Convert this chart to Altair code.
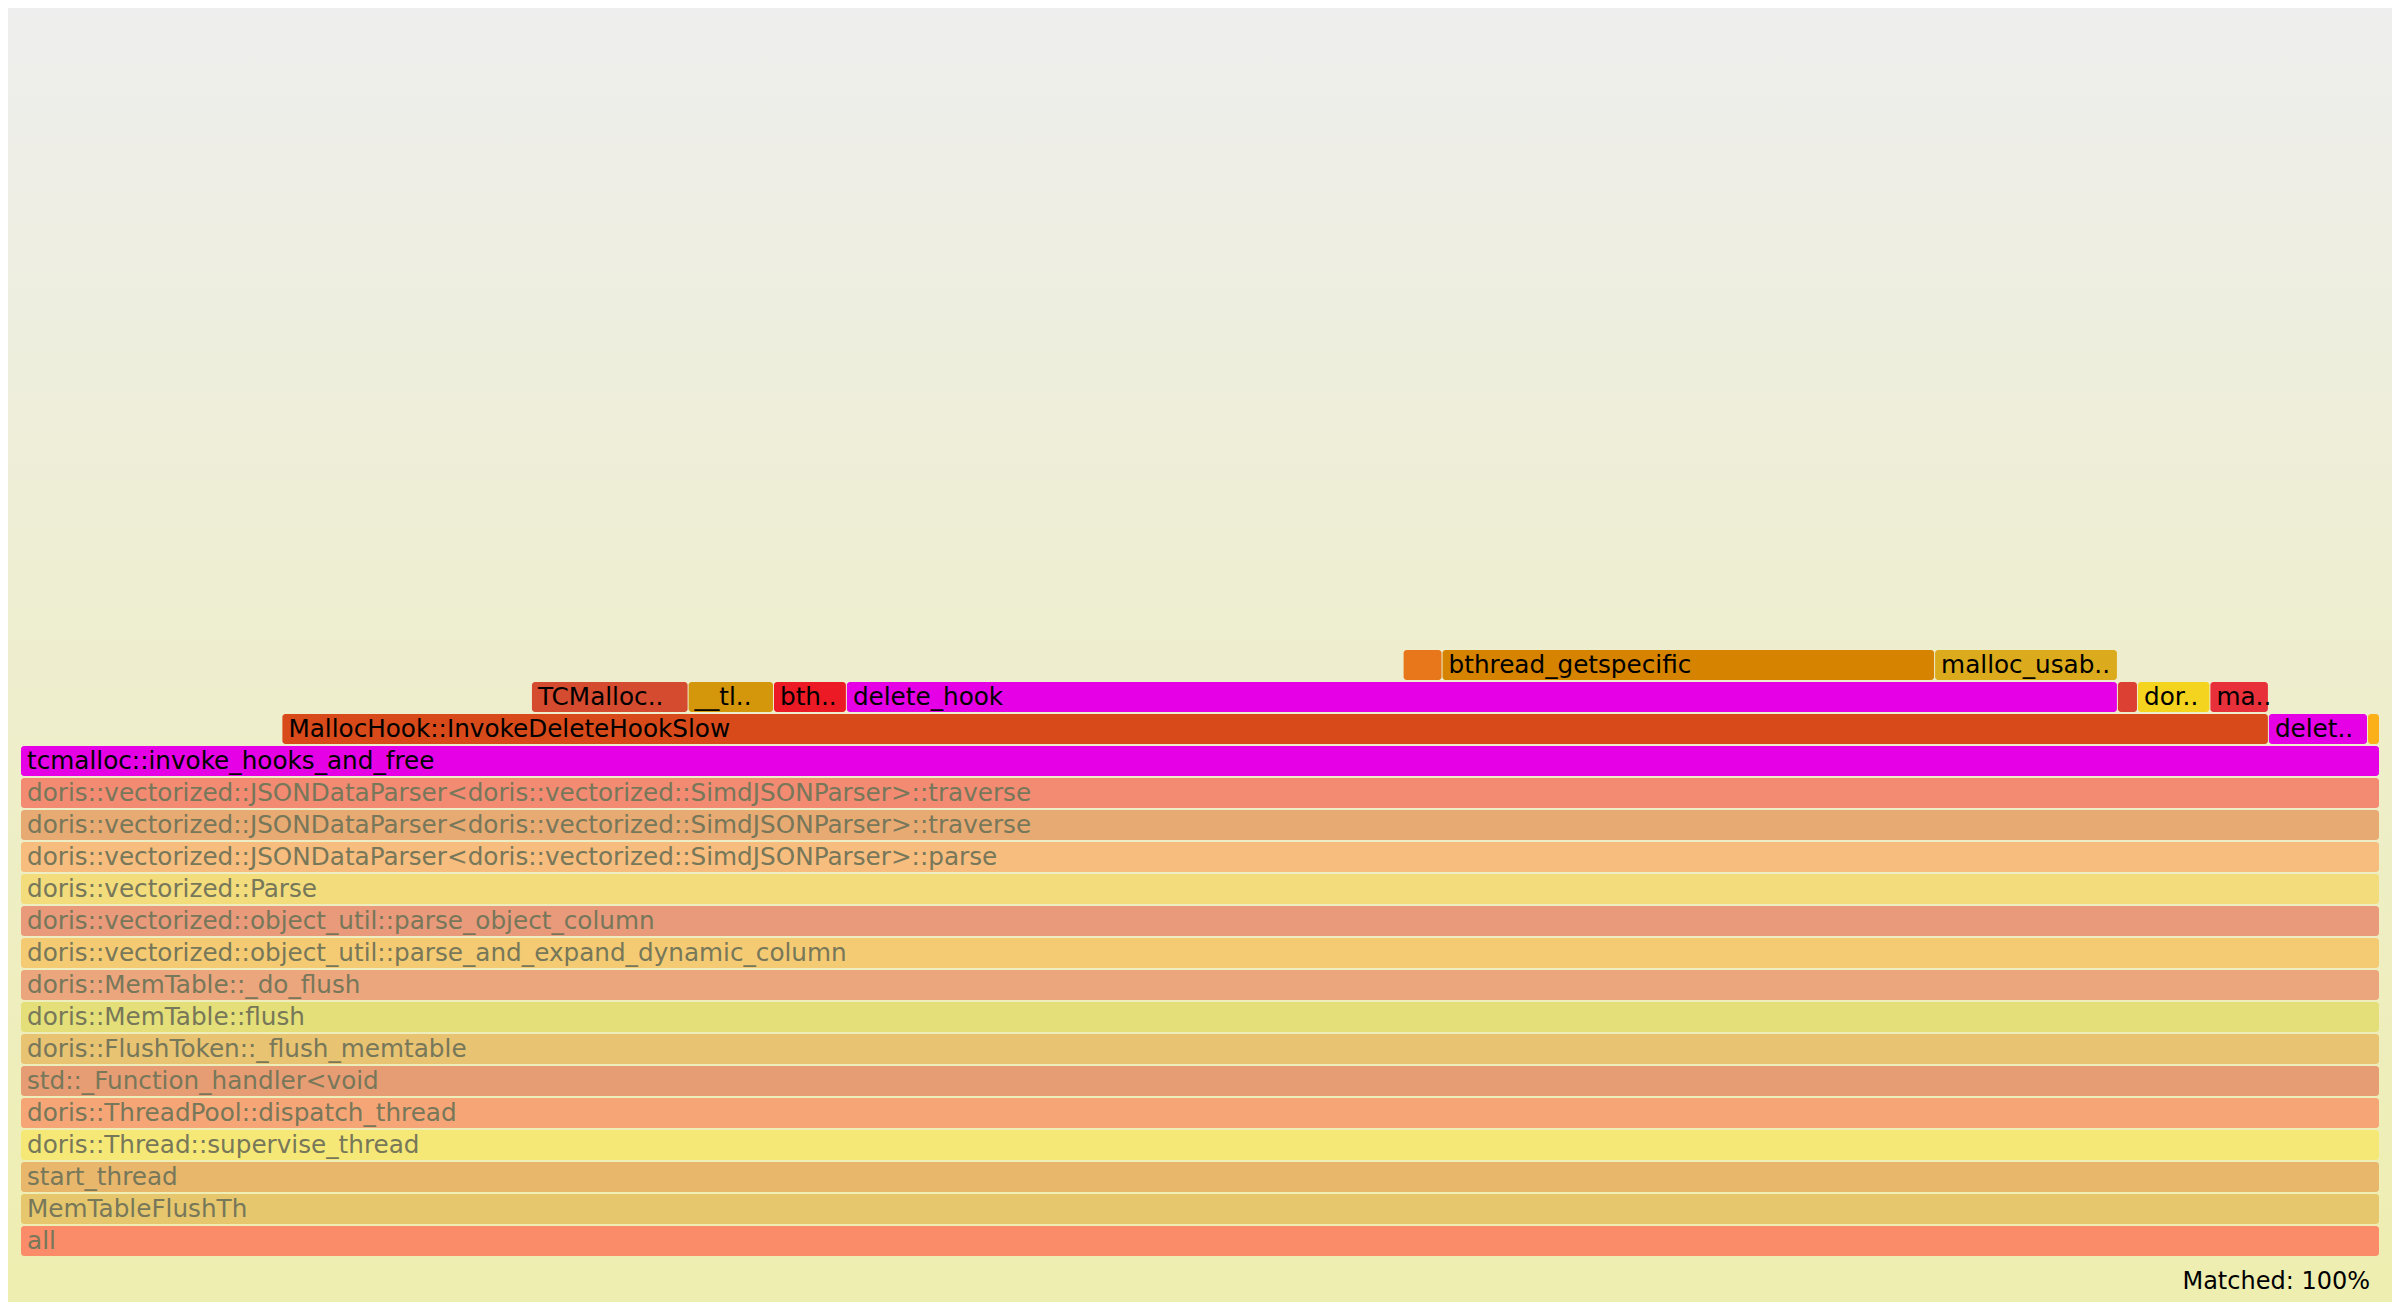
import altair as alt
import pandas as pd

# ---- data: one entry per frame (stack level 0 = root) ----
names = [
    "all", "MemTableFlushTh", "start_thread", "doris::Thread::supervise_thread",
    "doris::ThreadPool::dispatch_thread", "std::_Function_handler<void",
    "doris::FlushToken::_flush_memtable", "doris::MemTable::flush",
    "doris::MemTable::_do_flush",
    "doris::vectorized::object_util::parse_and_expand_dynamic_column",
    "doris::vectorized::object_util::parse_object_column",
    "doris::vectorized::Parse",
    "doris::vectorized::JSONDataParser<doris::vectorized::SimdJSONParser>::parse",
    "doris::vectorized::JSONDataParser<doris::vectorized::SimdJSONParser>::traverse",
    "doris::vectorized::JSONDataParser<doris::vectorized::SimdJSONParser>::traverse",
    "tcmalloc::invoke_hooks_and_free",
    "MallocHook::InvokeDeleteHookSlow", "delet..", "",
    "TCMalloc..", "__tl..", "bth..", "delete_hook", "", "dor..", "ma..",
    "", "bthread_getspecific", "malloc_usab..",
]
levels = [0, 1, 2, 3, 4, 5, 6, 7, 8, 9, 10, 11, 12, 13, 14, 15,
          16, 16, 16,
          17, 17, 17, 17, 17, 17, 17,
          18, 18, 18]
starts = [0] * 16 + [
    110.8, 952.9, 994.9,
    216.6, 283.0, 319.2, 350.1, 888.9, 897.4, 928.1,
    586.1, 602.6, 811.4,
]
widths = [1000] * 16 + [
    842.1, 42.0, 5.1,
    66.4, 36.2, 30.9, 538.8, 8.5, 30.7, 24.8,
    16.5, 208.8, 77.5,
]
colors = [
    "#fa8c69", "#e6c76d", "#e8b76c", "#f5e877", "#f6a676", "#e79d73",
    "#e8c372", "#e4df78", "#eca67d", "#f4cb73", "#e99a7a", "#f3dc7c",
    "#f7bd7e", "#e8aa73", "#f28b72", "#e500e5",
    "#d84a1a", "#e500e5", "#fbb01a",
    "#d54b2f", "#d4960a", "#eb1a25", "#e500e5", "#dc4033", "#f5d41f", "#e8303a",
    "#e8761a", "#d68400", "#dcaa1d",
]
matched_text = ["Matched: 100%"]

W, H = 2384, 1294

df = pd.DataFrame({
    "name": names, "level": levels, "start": starts, "width": widths,
    "color": colors,
})
df["end"] = df["start"] + df["width"]
df["top"] = df["level"] + 0.9375
df["mid"] = df["level"] + 0.44

xs = alt.Scale(domain=[0, 1000], range=[13, 2372])
ys = alt.Scale(domain=[-1.4375, 39], range=[H, 0])

bg = alt.Chart(pd.DataFrame({"a": [0]})).mark_rect(
    fill=alt.Gradient(
        gradient="linear",
        stops=[alt.GradientStop(color="#eeeeee", offset=0),
               alt.GradientStop(color="#eeeeb0", offset=1)],
        x1=0, x2=0, y1=0, y2=1,
    )
).encode(x=alt.value(0), x2=alt.value(W), y=alt.value(0), y2=alt.value(H))

bars = alt.Chart(df).mark_rect(cornerRadius=3, x2Offset=-1).encode(
    x=alt.X("start:Q", scale=xs, axis=None),
    x2="end:Q",
    y=alt.Y("level:Q", scale=ys, axis=None),
    y2="top:Q",
    fill=alt.Fill("color:N", scale=None),
)

labels = alt.Chart(df).mark_text(
    align="left", baseline="middle", dx=6, font="DejaVu Sans", fontSize=24.7
).encode(
    x=alt.X("start:Q", scale=xs, axis=None),
    y=alt.Y("mid:Q", scale=ys, axis=None),
    text="name:N",
    color=alt.condition("datum.level >= 15", alt.value("#000000"), alt.value("#77775a")),
)

matched = alt.Chart(pd.DataFrame({"t": matched_text})).mark_text(
    align="right", baseline="alphabetic", font="DejaVu Sans", fontSize=24, color="#000000"
).encode(x=alt.value(2362), y=alt.value(1281), text="t:N")

chart = alt.layer(bg, bars, labels, matched).properties(
    width=W, height=H, padding=0, autosize=alt.AutoSizeParams(type="none"),
    background="#eeeeb0",
).configure_view(stroke=None)

chart.save("out.html", embed_options={"renderer": "svg", "actions": False})
